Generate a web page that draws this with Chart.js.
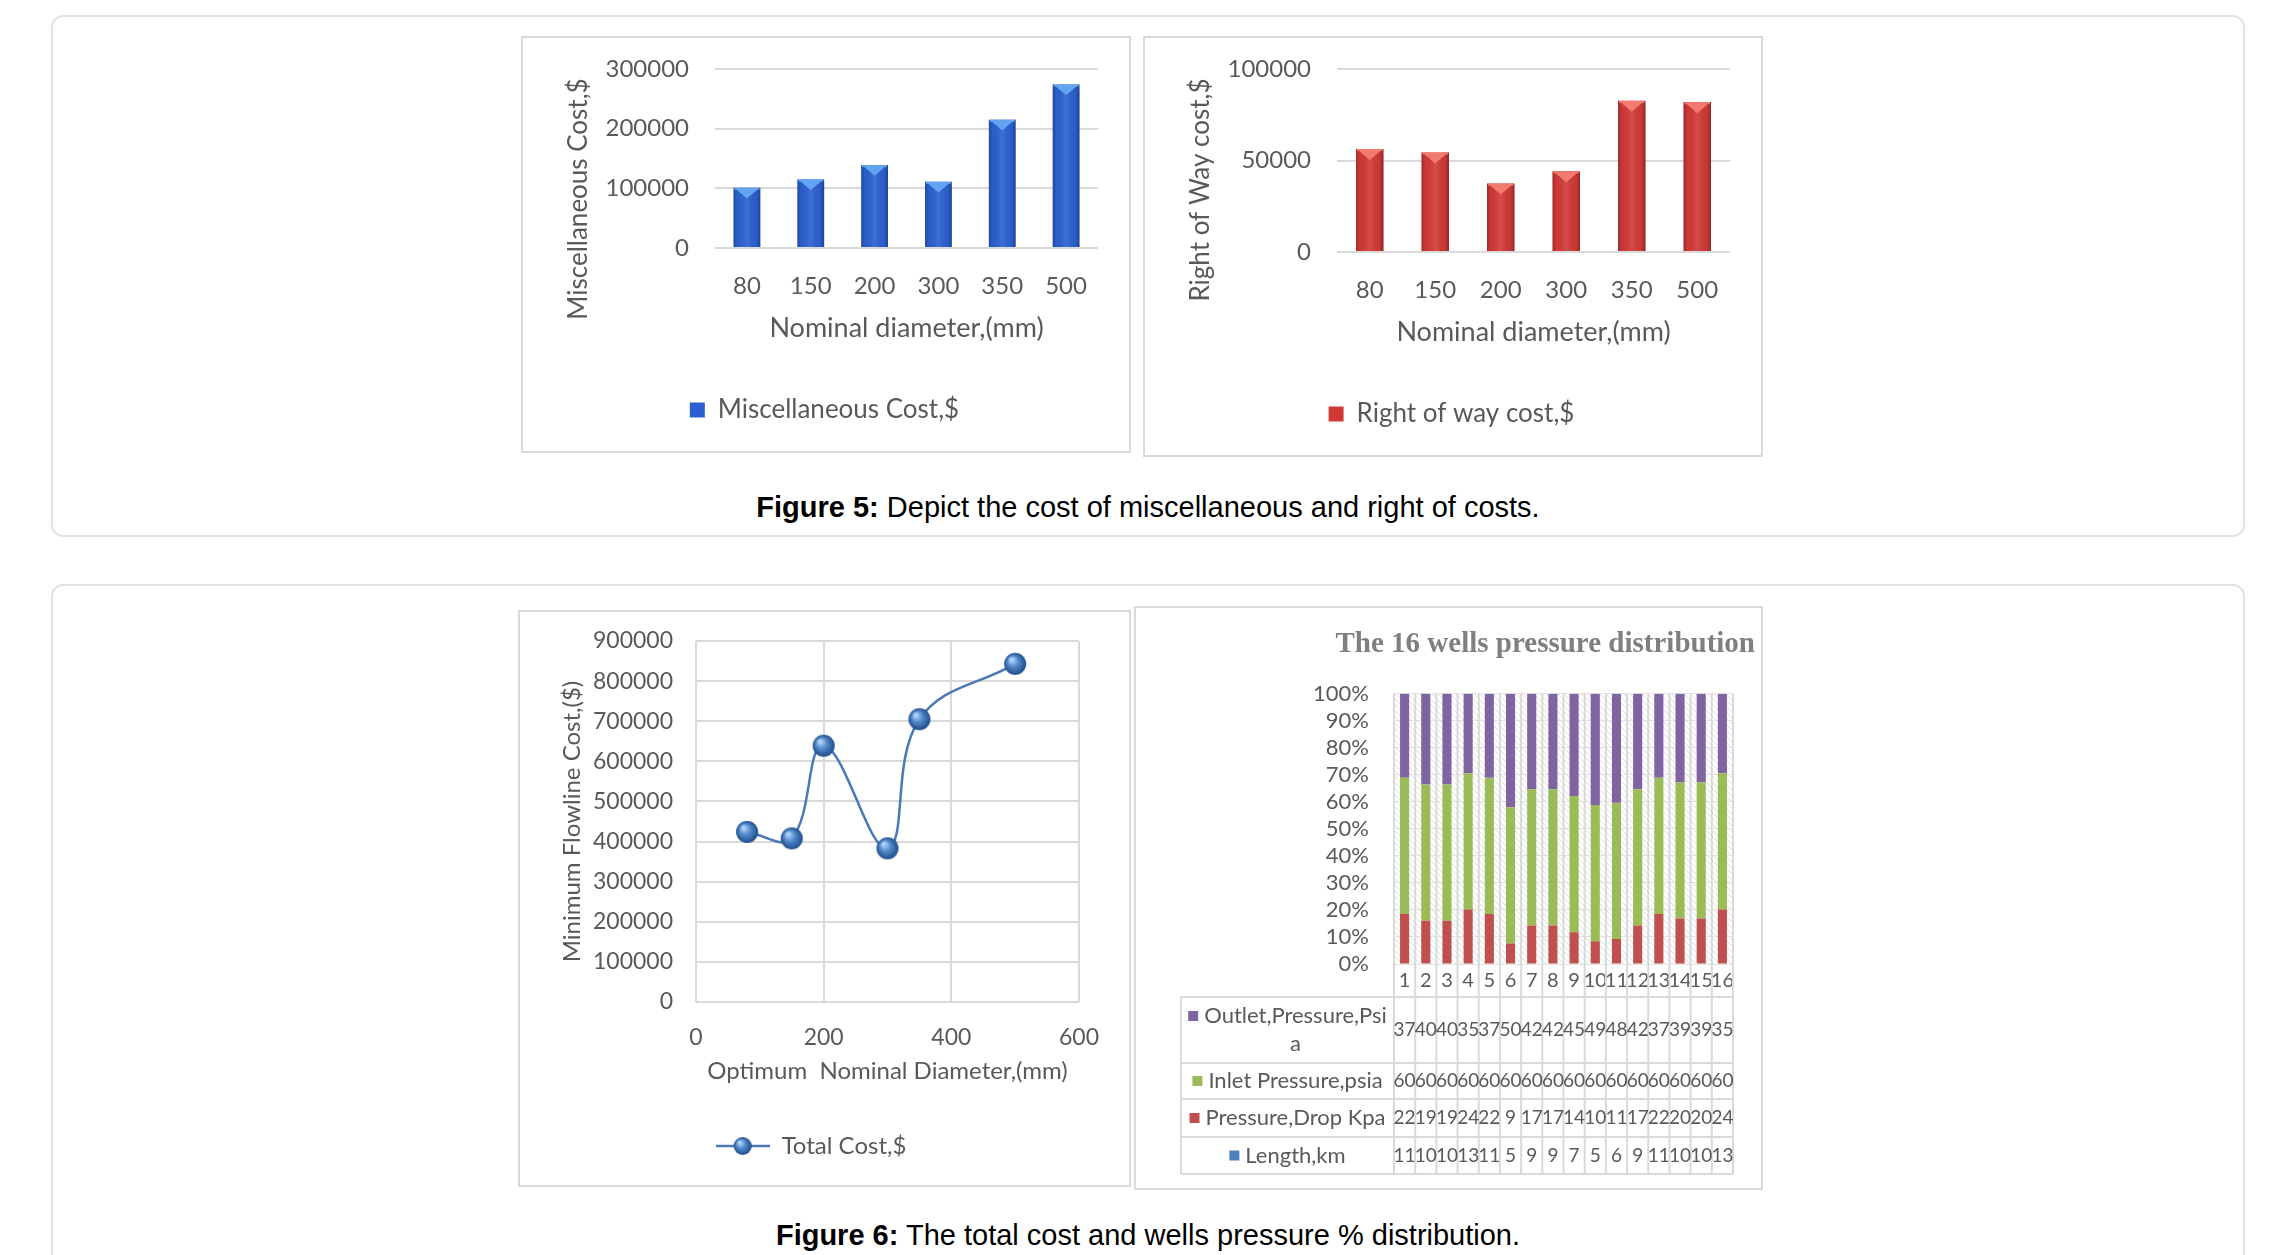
<!DOCTYPE html>
<html>
<head>
<meta charset="utf-8">
<script src="https://cdn.jsdelivr.net/npm/chart.js@4.4.0/dist/chart.umd.min.js"></script>
<style>
body{margin:0;background:#fff;width:2277px;height:1255px;overflow:hidden;position:relative;font-family:"Liberation Sans",Arial,sans-serif}
.panel{position:absolute;left:51px;width:2194px;border:2px solid #e2e2e2;border-radius:12px;box-sizing:border-box;background:#fff}
.box{position:absolute;box-shadow:inset 0 0 0 2px #d9d9d9;background:#fff}
.box canvas{position:absolute;left:0;top:0}
.cap{position:absolute;left:51px;width:2194px;text-align:center;font-size:29px;line-height:32px;color:#000}
</style>
</head>
<body>
<div class="panel" style="top:15px;height:522px"></div>
<div class="panel" style="top:584px;height:720px"></div>

<div class="box" style="left:521px;top:36px;width:610px;height:417px"><canvas id="miscChart" width="610" height="417"></canvas></div>
<div class="box" style="left:1143px;top:36px;width:620px;height:421px"><canvas id="rowChart" width="620" height="421"></canvas></div>
<div class="cap" style="top:491px"><b>Figure 5:</b> Depict the cost of miscellaneous and right of costs.</div>

<div class="box" style="left:518px;top:610px;width:613px;height:577px"><canvas id="totalChart" width="613" height="577"></canvas></div>
<div class="box" style="left:1134px;top:606px;width:629px;height:584px"><canvas id="wellChart" width="629" height="584"></canvas></div>
<div class="cap" style="top:1219px"><b>Figure 6:</b> The total cost and wells pressure % distribution.</div>

<script>
// figure 5 data
const diameters = ['80', '150', '200', '300', '350', '500'];
const miscCost = [101000, 115000, 139000, 111000, 215000, 274000];
const rowCost = [56300, 54400, 37400, 44100, 82600, 81900];

// figure 6 data
const totalDiam = [80, 150, 200, 300, 350, 500];
const totalCost = [424000, 408000, 639000, 383000, 705000, 843000];

const wells = ['1','2','3','4','5','6','7','8','9','10','11','12','13','14','15','16'];
const lengthKm = [11, 10, 10, 13, 11, 5, 9, 9, 7, 5, 6, 9, 11, 10, 10, 13];
const dropKpa = [22, 19, 19, 24, 22, 9, 17, 17, 14, 10, 11, 17, 22, 20, 20, 24];
const inletPsia = [60, 60, 60, 60, 60, 60, 60, 60, 60, 60, 60, 60, 60, 60, 60, 60];
const outletPsia = [37, 40, 40, 35, 37, 50, 42, 42, 45, 49, 48, 42, 37, 39, 39, 35];

Chart.defaults.font.family = 'Lato, "Open Sans", sans-serif';
Chart.defaults.color = '#595959';
Chart.defaults.animation = false;
Chart.defaults.plugins.tooltip.enabled = false;

const fixW = w => s => { s.width = w; };
const fixH = h => s => { s.height = h; };
const plain = v => String(v);

// excel-ish bevel on the bars
const bevel = {
  id: 'bevel',
  afterDatasetsDraw(chart, args, opts) {
    const ctx = chart.ctx;
    chart.getDatasetMeta(0).data.forEach(bar => {
      const {x, y, width, base} = bar.getProps(['x', 'y', 'width', 'base'], true);
      const l = x - width / 2, r = x + width / 2;
      const g = ctx.createLinearGradient(l, 0, r, 0);
      g.addColorStop(0, 'rgba(0,0,0,0.22)');
      g.addColorStop(0.15, 'rgba(0,0,0,0.02)');
      g.addColorStop(0.5, 'rgba(255,255,255,0.10)');
      g.addColorStop(0.85, 'rgba(0,0,0,0.03)');
      g.addColorStop(1, 'rgba(0,0,0,0.30)');
      ctx.save();
      ctx.fillStyle = g;
      ctx.fillRect(l, y, width, base - y);
      ctx.fillStyle = opts.tip;
      ctx.beginPath();
      ctx.moveTo(l + 2, y + 1);
      ctx.lineTo(r - 2, y + 1);
      ctx.lineTo(x, y + width * 0.4);
      ctx.closePath();
      ctx.fill();
      ctx.fillRect(l + 1, y, width - 2, 2);
      ctx.restore();
    });
  }
};

// rotated value-axis title placed where excel puts it
const sideTitle = {
  id: 'sideTitle',
  afterDraw(chart, args, opts) {
    const ctx = chart.ctx;
    ctx.save();
    ctx.translate(opts.x, opts.y);
    ctx.rotate(-Math.PI / 2);
    ctx.font = opts.size + 'px Lato, "Open Sans", sans-serif';
    ctx.fillStyle = '#595959';
    ctx.textAlign = 'center';
    ctx.textBaseline = 'middle';
    ctx.fillText(opts.text, 0, 0);
    ctx.restore();
  }
};

// gap between value labels and plot, kept out of the top padding
const gapGrid = (gap, extra) => Object.assign({color: '#d9d9d9', lineWidth: 2, drawTicks: true, tickLength: gap, tickColor: 'rgba(0,0,0,0)'}, extra);

function costBar(id, label, values, yMax, yStep, yTitle, titleY, body, tip) {
  return new Chart(document.getElementById(id), {
    type: 'bar',
    data: {
      labels: diameters,
      datasets: [{label: label, data: values, backgroundColor: body, barPercentage: 0.42, categoryPercentage: 1}]
    },
    options: {
      responsive: false,
      layout: {padding: {left: 30, right: 33, top: 33, bottom: 20}},
      plugins: {
        legend: {position: 'bottom', labels: {font: {size: 26}, boxWidth: 15, boxHeight: 15, padding: 10}},
        bevel: {tip: tip},
        sideTitle: {text: yTitle, x: 58, y: titleY, size: 26}
      },
      scales: {
        x: {
          grid: {display: false, drawTicks: false},
          border: {display: false},
          ticks: {font: {size: 24}, padding: 24},
          title: {display: true, text: 'Nominal diameter,(mm)', font: {size: 27}, padding: {top: 0, bottom: 43}},
          afterFit: fixH(139)
        },
        y: {
          min: 0, max: yMax,
          ticks: {stepSize: yStep, font: {size: 24}, padding: 4, callback: plain},
          grid: gapGrid(22),
          border: {display: false},
          afterFit: fixW(164)
        }
      }
    },
    plugins: [bevel, sideTitle]
  });
}

costBar('miscChart', 'Miscellaneous Cost,$', miscCost, 300000, 100000, 'Miscellaneous Cost,$', 163, '#2b60cf', '#62a4ef');
costBar('rowChart', 'Right of way cost,$', rowCost, 100000, 50000, 'Right of Way cost,$', 154, '#d03936', '#f27a70');

// sphere markers
function sphere(r) {
  const c = document.createElement('canvas');
  c.width = c.height = 2 * r + 2;
  const g = c.getContext('2d');
  const cx = r + 1;
  const grd = g.createRadialGradient(cx - r * 0.35, cx - r * 0.4, r * 0.1, cx, cx, r);
  grd.addColorStop(0, '#b4d4f4');
  grd.addColorStop(0.45, '#5289cc');
  grd.addColorStop(1, '#1f4b8a');
  g.fillStyle = grd;
  g.beginPath();
  g.arc(cx, cx, r, 0, Math.PI * 2);
  g.fill();
  return c;
}
const ball = sphere(11);
const legendBall = (() => {
  const c = document.createElement('canvas');
  c.width = 54; c.height = 22;
  const g = c.getContext('2d');
  g.strokeStyle = '#4a78b8'; g.lineWidth = 2.5;
  g.beginPath(); g.moveTo(0, 11); g.lineTo(54, 11); g.stroke();
  g.drawImage(sphere(9), 27 - 10, 1);
  return c;
})();

new Chart(document.getElementById('totalChart'), {
  type: 'line',
  data: {
    datasets: [{
      label: 'Total Cost,$',
      data: totalDiam.map((d, i) => ({x: d, y: totalCost[i]})),
      borderColor: '#4a78b8',
      borderWidth: 2.5,
      tension: 0.4,
      pointStyle: ball,
      pointRadius: 11
    }]
  },
  options: {
    responsive: false,
    layout: {padding: {left: 25, right: 52, top: 31, bottom: 19}},
    plugins: {
      legend: {position: 'bottom', labels: {usePointStyle: true, pointStyle: legendBall, pointStyleWidth: 54, font: {size: 24}, padding: 10}}
    },
    scales: {
      x: {
        type: 'linear', min: 0, max: 600,
        ticks: {stepSize: 200, font: {size: 23}, padding: 22},
        grid: {color: '#d9d9d9', lineWidth: 2, drawTicks: false},
        border: {display: false},
        title: {display: true, text: 'Optimum  Nominal Diameter,(mm)', font: {size: 24}, padding: {top: 0, bottom: 38}},
        afterFit: fixH(122)
      },
      y: {
        min: 0, max: 900000,
        ticks: {stepSize: 100000, font: {size: 23}, padding: 4, callback: plain},
        grid: gapGrid(19),
        border: {display: false},
        title: {display: true, text: 'Minimum Flowline Cost,($)', font: {size: 24}, padding: {top: 15, bottom: 0}},
        afterFit: fixW(153)
      }
    }
  }
});

// 100% stacked wells chart
const wellTotal = wells.map((w, i) => dropKpa[i] + inletPsia[i] + outletPsia[i]);
const pct = arr => arr.map((v, i) => v / wellTotal[i] * 100);

const tableRows = [
  {name: ['Outlet,Pressure,Psi', 'a'], color: '#8064a2', values: outletPsia},
  {name: ['Inlet Pressure,psia'], color: '#9bbb59', values: inletPsia},
  {name: ['Pressure,Drop Kpa'], color: '#c0504d', values: dropKpa},
  {name: ['Length,km'], color: '#4f81bd', values: lengthKm}
];

const hatch = (() => {
  const c = document.createElement('canvas');
  c.width = 6; c.height = 6;
  const g = c.getContext('2d');
  g.strokeStyle = '#dedede'; g.lineWidth = 1;
  g.beginPath(); g.moveTo(0, 0); g.lineTo(6, 6); g.moveTo(-3, 3); g.lineTo(3, 9); g.moveTo(3, -3); g.lineTo(9, 3); g.stroke();
  return c;
})();

const dataTable = {
  id: 'dataTable',
  beforeDatasetsDraw(chart) {
    const {ctx, chartArea: a} = chart;
    ctx.save();
    ctx.fillStyle = ctx.createPattern(hatch, 'repeat');
    ctx.fillRect(a.left, a.top, a.right - a.left, a.bottom - a.top);
    ctx.restore();
  },
  afterDraw(chart) {
    const {ctx, chartArea: a, scales: {x}} = chart;
    const edges = [33, 99, 135, 173, 210];
    const labelLeft = 47;
    const colW = x.width / wells.length;
    ctx.save();
    ctx.strokeStyle = '#d9d9d9';
    ctx.lineWidth = 2;
    ctx.beginPath();
    for (let i = 0; i <= wells.length; i++) {
      const bx = x.left + i * colW;
      ctx.moveTo(bx, a.top); ctx.lineTo(bx, a.bottom + edges[4]);
    }
    ctx.moveTo(labelLeft, a.bottom + edges[0]); ctx.lineTo(labelLeft, a.bottom + edges[4]);
    edges.forEach(e => { ctx.moveTo(labelLeft, a.bottom + e); ctx.lineTo(x.right, a.bottom + e); });
    ctx.stroke();

    ctx.textBaseline = 'middle';
    ctx.textAlign = 'center';
    tableRows.forEach((row, r) => {
      const top = a.bottom + edges[r], bot = a.bottom + edges[r + 1];
      const mid = (top + bot) / 2;
      ctx.font = '22px Lato, "Open Sans", sans-serif';
      const tw = ctx.measureText(row.name[0]).width;
      const start = (labelLeft + x.left) / 2 - (tw + 16) / 2;
      const tx = start + 16 + tw / 2;
      const y0 = row.name.length > 1 ? mid - 14 : mid;
      ctx.fillStyle = row.color;
      ctx.fillRect(start, y0 - 5, 10, 10);
      ctx.fillStyle = '#595959';
      row.name.forEach((t, k) => ctx.fillText(t, tx, y0 + k * 28));
      ctx.font = '19px Lato, "Open Sans", sans-serif';
      row.values.forEach((v, i) => ctx.fillText(String(v), x.getPixelForValue(i), mid));
    });
    ctx.restore();
  }
};

new Chart(document.getElementById('wellChart'), {
  type: 'bar',
  data: {
    labels: wells,
    datasets: [
      {label: 'Pressure,Drop Kpa', data: pct(dropKpa), backgroundColor: '#c0504d'},
      {label: 'Inlet Pressure,psia', data: pct(inletPsia), backgroundColor: '#9bbb59'},
      {label: 'Outlet,Pressure,Psia', data: pct(outletPsia), backgroundColor: '#8064a2'}
    ]
  },
  options: {
    responsive: false,
    datasets: {bar: {barPercentage: 0.43, categoryPercentage: 1}},
    layout: {padding: {left: 0, right: 8, top: 10, bottom: 16}},
    plugins: {
      legend: {display: false},
      title: {
        display: true, align: 'end', text: 'The 16 wells pressure distribution', color: '#7f7f7f',
        font: {family: '"Liberation Serif", "DejaVu Serif", serif', size: 29, weight: 'bold'},
        padding: {top: 11, bottom: 32}
      }
    },
    scales: {
      x: {
        stacked: true,
        grid: {display: false, drawTicks: false},
        border: {display: false},
        ticks: {font: {size: 20}, padding: 5, maxRotation: 0, autoSkip: false},
        afterFit: fixH(210)
      },
      y: {
        stacked: true, min: 0, max: 100,
        ticks: {stepSize: 10, font: {size: 22}, padding: 25, autoSkip: false, callback: v => v + '%'},
        grid: {color: '#e2e2e2', lineWidth: 1, drawTicks: false},
        border: {display: false},
        afterFit: fixW(260)
      },
      yR: {
        position: 'right',
        grid: {display: false, drawTicks: false},
        border: {display: false},
        ticks: {display: false},
        afterFit: fixW(22)
      }
    }
  },
  plugins: [dataTable]
});
</script>
</body>
</html>
